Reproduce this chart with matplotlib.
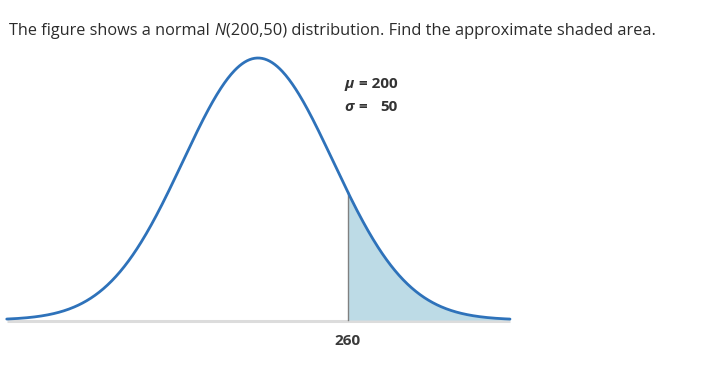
import numpy as np
import matplotlib
matplotlib.use("Agg")
import matplotlib.pyplot as plt

mu = 200
sigma = 50
cutoff = 260
tick_labels = ["260"]
x_range = (32.5, 368)
title_parts = ["The figure shows a normal", "N", "(200,50) distribution. Find the approximate shaded area."]

def pdf(x):
    return np.exp(-0.5 * ((x - mu) / sigma) ** 2) / (sigma * np.sqrt(2 * np.pi))

W, H = 717, 370
fig = plt.figure(figsize=(W / 100, H / 100), dpi=100)
ax = fig.add_axes([0, 0, 1, 1])
ax.set_axis_off()

peak = pdf(mu)
sx = 1.5
x0 = mu - 258 / sx
x1 = mu + (W - 258) / sx
scale = peak / 262.0
ax.set_xlim(x0, x1)
ax.set_ylim(-(H - 320) * scale, 320 * scale)

def px(xp):
    return x0 + xp / sx

def py(yp):
    return (320 - yp) * scale

xs = np.linspace(x_range[0], x_range[1], 600)
ys = pdf(xs)

ax.plot([x_range[0], x_range[1]], [-1.2 * scale, -1.2 * scale], color="#dcdcdc", lw=2.2, solid_capstyle="butt", zorder=1)

xf = xs[xs >= cutoff]
xf = np.concatenate([[cutoff], xf])
ax.fill_between(xf, 0, pdf(xf), color="#bddbe6", lw=0, zorder=2)
ax.plot([cutoff, cutoff], [0, pdf(cutoff)], color="#808080", lw=1.0, zorder=3)

ax.plot(xs, ys, color="#2e72ba", lw=2.0, zorder=4, solid_capstyle="round")

ax.text(cutoff - 1 / sx, py(341), tick_labels[0], ha="center", va="center",
        fontsize=11, fontweight="bold", color="#3a3a3a", family="Open Sans")

lab = dict(va="center", fontsize=11, fontweight="bold", color="#333333", family="Open Sans")
ax.text(px(344), py(84), "μ", ha="left", fontstyle="italic", **lab)
ax.text(px(398), py(84), "= 200", ha="right", **lab)
ax.text(px(344), py(107), "σ", ha="left", fontstyle="italic", **lab)
ax.text(px(367), py(107), "=", ha="right", **lab)
ax.text(px(398), py(107), "50", ha="right", **lab)

renderer = fig.canvas.get_renderer()
ty = 1 - 31 / H
spans = [(9, 211), (214, None), (226, 660)]
for part, (xa, xb) in zip(title_parts, spans):
    t = fig.text(xa / W, ty, part, ha="left", va="center", fontsize=11.3,
                 color="#2b2b2b", family="Open Sans",
                 fontstyle="italic" if part == "N" else "normal")
    if xb is not None:
        w = t.get_window_extent(renderer).width
        t.set_fontsize(11.3 * (xb - xa) / w)

fig.savefig("out.png", dpi=100)
